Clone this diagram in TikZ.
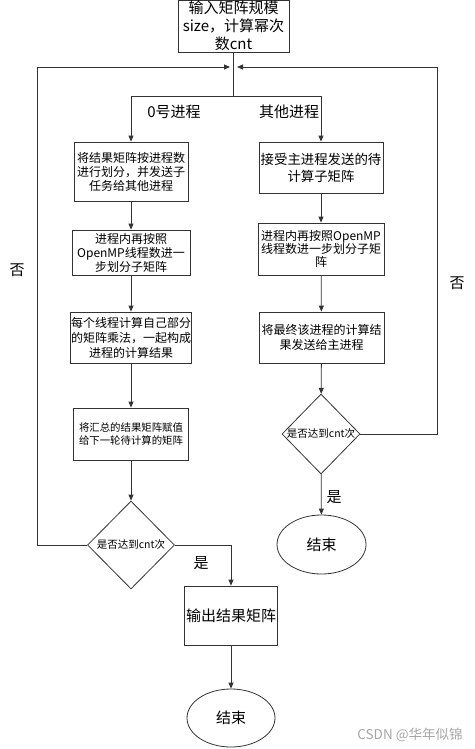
\documentclass[tikz,border=0pt]{standalone}
\usepackage{fontspec}
\setmainfont{Noto Sans CJK SC}
\usetikzlibrary{arrows.meta,shapes.geometric}
\newcommand{\fs}[2]{\fontsize{#1}{#2}\selectfont}
\begin{document}
\begin{tikzpicture}[x=1pt,y=-1pt,
    line/.style={draw=black!80,line width=0.8pt},
    arr/.style={line,-{Triangle[length=6pt,width=5pt]}},
    box/.style={line,rectangle,inner sep=0pt,align=center},
    dec/.style={line,diamond,inner sep=0pt,font=\fs{10.5}{12}},
    term/.style={line,ellipse,inner sep=0pt,font=\fs{15}{18}},
    lab/.style={inner sep=0pt,font=\fs{15}{18}}]
        \useasboundingbox (0,0) rectangle (474,749);
        % top box
        \node[box,minimum width=111pt,minimum height=52pt,font=\fs{15}{18}] (top) at (233.5,26) {输入矩阵规模\\size，计算幂次\\数cnt};
        \coordinate (split) at (233.5,96);
        % left column
        \node[box,minimum width=114pt,minimum height=59pt,font=\fs{12}{14}] (a1) at (131,171.5) {将结果矩阵按进程数\\进行划分，并发送子\\任务给其他进程};
        \node[box,minimum width=118pt,minimum height=45pt,font=\fs{12}{14}] (a2) at (131,252.5) {进程内再按照\\OpenMP线程数进一\\步划分子矩阵};
        \node[box,minimum width=121pt,minimum height=51pt,font=\fs{12}{15}] (a3) at (131,337.5) {每个线程计算自己部分\\的矩阵乘法，一起构成\\进程的计算结果};
        \node[box,minimum width=115pt,minimum height=52pt,font=\fs{10.4}{13}] (a4) at (131,434) {将汇总的结果矩阵赋值\\给下一轮待计算的矩阵};
        \node[dec,minimum width=87pt,minimum height=88pt] (da) at (131,545) {\makebox[0pt]{是否达到cnt次}};
        \node[box,minimum width=93pt,minimum height=59pt,font=\fs{15}{18}] (out) at (231,615.5) {输出结果矩阵};
        \node[term,minimum width=88pt,minimum height=58pt] (enda) at (231,718) {结束};
        % right column
        \node[box,minimum width=124pt,minimum height=51pt,font=\fs{13.4}{17}] (b1) at (321,167.5) {接受主进程发送的待\\计算子矩阵};
        \node[box,minimum width=126pt,minimum height=52pt,font=\fs{12}{13}] (b2) at (321,249) {进程内再按照OpenMP\\线程数进一步划分子矩\\阵};
        \node[box,minimum width=125pt,minimum height=51pt,font=\fs{12}{15}] (b3) at (321.5,337.5) {将最终该进程的计算结\\果发送给主进程};
        \node[dec,minimum width=78pt,minimum height=80pt] (db) at (321,434) {\makebox[0pt]{是否达到cnt次}};
        \node[term,minimum width=89pt,minimum height=59pt] (endb) at (321.5,544.5) {结束};
        % labels
        \node[lab] (l0) at (174,112) {0号进程};
        \node[lab] (l1) at (289,112) {其他进程};
        \node[lab] (nol) at (17,270) {否};
        \node[lab] (nor) at (457,283) {否};
        \node[lab] (yesl) at (201,563) {是};
        \node[lab] (yesr) at (334,497) {是};
        \node[inner sep=0pt,text=black!35,font=\fs{13.5}{15}] (mark) at (410,735) {CSDN @华年似锦};
        % split
        \draw[line] (top.south) -- (split);
        \draw[arr] (split) -| (a1.north);\draw[arr] (split) -| (b1.north);
        % left flow
        \draw[arr] (a1) -- (a2);\draw[arr] (a2) -- (a3);
        \draw[arr] (a3) -- (a4);\draw[arr] (a4) -- (da);
        \draw[arr] (da.east) -| (out.north);\draw[arr] (out) -- (enda);
        % right flow
        \draw[arr] (b1) -- (b2);\draw[arr] (b2) -- (b3);
        \draw[arr] (b3) -- (db);\draw[arr] (db) -- (endb);
        % loops back
        \coordinate (lc) at (37,67);\coordinate (inl) at (230,67);
        \coordinate (rc) at (437,67);\coordinate (inr) at (237,67);
        \draw[arr] (da.west) -| (lc) -- (inl);
        \draw[arr] (db.east) -| (rc) -- (inr);
\end{tikzpicture}
\end{document}
